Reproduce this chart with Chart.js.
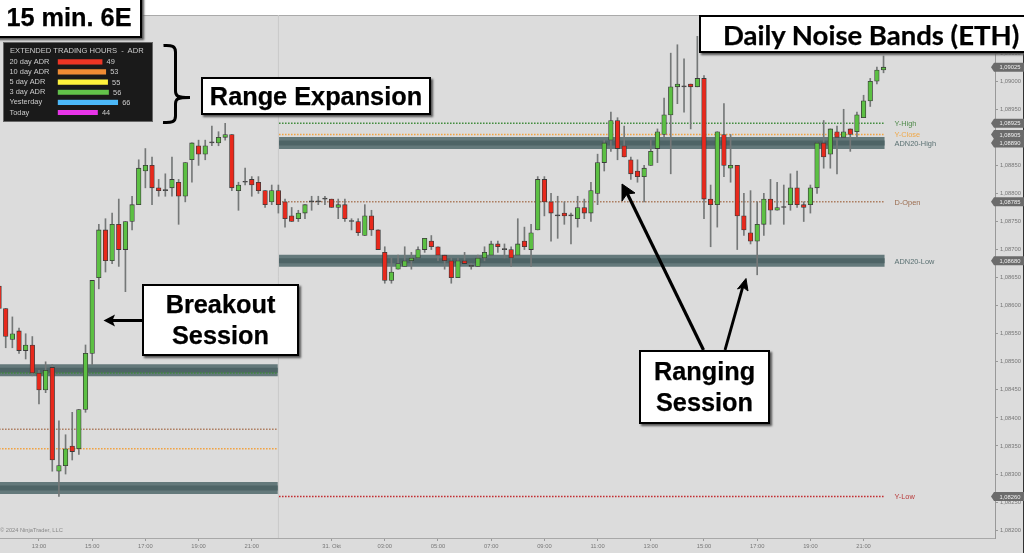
<!DOCTYPE html>
<html>
<head>
<meta charset="utf-8">
<title>15 min. 6E - Daily Noise Bands</title>
<script src="https://cdn.jsdelivr.net/npm/chart.js@4/dist/chart.umd.min.js"></script>
<style>
    html, body { margin: 0; padding: 0; background: #fff; }
    #page { position: relative; width: 1024px; height: 553px; overflow: hidden; }
    #plot-bg { position: absolute; left: 0; top: 15px; width: 1024px; height: 538px; background: #dcdcdc; border-top: 1px solid #aaa; box-sizing: border-box; border-right: 1px solid #333; }
    #main-chart { position: absolute; left: 0; top: 0; filter: blur(0.3px); }
    #arrows { position: absolute; left: 0; top: 0; }
    .note { position: absolute; box-sizing: border-box; background: #fff; border: 2px solid #000; box-shadow: 1.5px 1.5px 2px #555;
            display: flex; align-items: center; justify-content: center; text-align: center;
            font: bold 25.3px/31px "Liberation Sans", Arial, sans-serif; color: #000; white-space: nowrap; -webkit-text-stroke: 0.25px #000; }
    #adr-panel { position: absolute; left: 3px; top: 42px; width: 150px; height: 80px; background: #1a1a1a; border: 1px solid #666; box-sizing: border-box; }
    #adr-title { position: absolute; left: 6px; top: 3px; font: 7.6px "Liberation Sans", Arial, sans-serif; color: #ccc; white-space: pre; }
    #adr-chart { position: absolute; left: -1px; top: -1px; }
    #copyright { position: absolute; left: 0; top: 527px; font: 5.7px "Liberation Sans", Arial, sans-serif; color: #888; }
</style>
</head>
<body>
<div id="page">
    <div id="plot-bg"></div>
    <canvas id="main-chart" width="1024" height="553"></canvas>
    <div id="copyright">© 2024 NinjaTrader, LLC</div>

    <svg id="arrows" width="1024" height="553" fill="none" stroke="#000" stroke-width="3">
        <path d="M163.5 45.5 C172 45 175.5 46 175.5 52 L175.5 91 C175.5 96 177 97.5 190 97.5 C177 97.5 175.5 99 175.5 104 L175.5 116 C175.5 122 172 123 163 122.5"/>
        <line x1="142" y1="320.5" x2="110" y2="320.5"/>
        <polygon points="103.5,320.5 115,314.5 112.5,320.5 115,326.5" fill="#000" stroke="none"/>
        <line x1="703.5" y1="350" x2="627" y2="193" stroke-width="3.2"/>
        <polygon points="622,184 635,193 627,194 622,201" fill="#000" stroke="#000" stroke-width="1"/>
        <line x1="725" y1="350" x2="743" y2="286" stroke-width="2.8"/>
        <polygon points="746,278.5 748,291 743,287 737.5,289" fill="#000" stroke="#000" stroke-width="1"/>
    </svg>

    <div id="adr-panel">
        <canvas id="adr-chart" width="150" height="80"></canvas>
        <div id="adr-title">EXTENDED TRADING HOURS  -  ADR</div>
    </div>

    <div class="note" style="left:-4px;top:-4px;width:146px;height:42px;">15 min. 6E</div>
    <div class="note" style="left:201px;top:77px;width:230px;height:38px;">Range Expansion</div>
    <div class="note" style="left:699px;top:15px;width:327px;height:38px;font-family:Lato,sans-serif;font-size:27.5px;justify-content:flex-start;padding-left:22px;">Daily Noise Bands (ETH)</div>
    <div class="note" style="left:142px;top:284px;width:157px;height:72px;">Breakout<br>Session</div>
    <div class="note" style="left:639px;top:350px;width:131px;height:74px;">Ranging<br>Session</div>
</div>

<script>
// Bars are numbered from the 13:00 bar (0), the first one on screen is -6
const firstBar = -6;

const opens = [
    1.08635, 1.08595, 1.08540, 1.08555, 1.08520, 1.08530,
    1.08480, 1.08450, 1.08490, 1.08305, 1.08315, 1.08350, 1.08345, 1.08415, 1.08515, 1.08650,
    1.08735, 1.08680, 1.08745, 1.08700, 1.08750, 1.08780, 1.08840, 1.08850, 1.08810, 1.08805,
    1.08810, 1.08820, 1.08795, 1.08860, 1.08885, 1.08870, 1.08890, 1.08890, 1.08900, 1.08905,
    1.08805, 1.08820, 1.08825, 1.08820, 1.08805, 1.08785, 1.08805, 1.08785, 1.08760, 1.08755,
    1.08765, 1.08785, 1.08785, 1.08790, 1.08790, 1.08775, 1.08780, 1.08750, 1.08750, 1.08725,
    1.08760, 1.08735, 1.08695, 1.08645, 1.08665, 1.08670, 1.08680, 1.08685, 1.08700, 1.08715,
    1.08705, 1.08690, 1.08680, 1.08650, 1.08680, 1.08670, 1.08670, 1.08685, 1.08690, 1.08710,
    1.08700, 1.08700, 1.08690, 1.08715, 1.08700, 1.08735, 1.08825, 1.08785, 1.08760, 1.08765,
    1.08760, 1.08755, 1.08775, 1.08765, 1.08800, 1.08855, 1.08895, 1.08930, 1.08885, 1.08860,
    1.08840, 1.08830, 1.08850, 1.08880, 1.08905, 1.08940, 1.08990, 1.08990, 1.08995, 1.08990,
    1.09005, 1.08790, 1.08780, 1.08905, 1.08845, 1.08850, 1.08760, 1.08730, 1.08715, 1.08745,
    1.08790, 1.08770, 1.08775, 1.08780, 1.08810, 1.08780, 1.08780, 1.08810, 1.08890, 1.08870,
    1.08910, 1.08900, 1.08915, 1.08910, 1.08935, 1.08965, 1.09000, 1.09020
];
const highs = [
    1.08635, 1.08595, 1.08580, 1.08560, 1.08550, 1.08545,
    1.08485, 1.08500, 1.08495, 1.08395, 1.08370, 1.08410, 1.08415, 1.08530, 1.08645, 1.08745,
    1.08755, 1.08765, 1.08790, 1.08750, 1.08795, 1.08860, 1.08880, 1.08865, 1.08825, 1.08835,
    1.08865, 1.08825, 1.08855, 1.08890, 1.08895, 1.08895, 1.08920, 1.08910, 1.08925, 1.08905,
    1.08820, 1.08845, 1.08830, 1.08830, 1.08805, 1.08815, 1.08815, 1.08790, 1.08775, 1.08770,
    1.08780, 1.08795, 1.08795, 1.08795, 1.08790, 1.08790, 1.08790, 1.08755, 1.08755, 1.08780,
    1.08770, 1.08735, 1.08705, 1.08685, 1.08690, 1.08705, 1.08695, 1.08705, 1.08720, 1.08725,
    1.08705, 1.08690, 1.08685, 1.08685, 1.08695, 1.08675, 1.08690, 1.08705, 1.08715, 1.08715,
    1.08710, 1.08705, 1.08755, 1.08740, 1.08745, 1.08830, 1.08830, 1.08800, 1.08795, 1.08785,
    1.08765, 1.08795, 1.08790, 1.08820, 1.08870, 1.08895, 1.08945, 1.08935, 1.08920, 1.08865,
    1.08860, 1.08850, 1.08895, 1.08915, 1.08970, 1.09050, 1.09065, 1.09040, 1.08995, 1.09080,
    1.09010, 1.08815, 1.08910, 1.08960, 1.08905, 1.08850, 1.08800, 1.08805, 1.08785, 1.08800,
    1.08825, 1.08820, 1.08815, 1.08835, 1.08840, 1.08785, 1.08815, 1.08890, 1.08930, 1.08915,
    1.08920, 1.08950, 1.08915, 1.08945, 1.08975, 1.09005, 1.09025, 1.09045
];
const lows = [
    1.08595, 1.08525, 1.08525, 1.08515, 1.08505, 1.08475,
    1.08425, 1.08445, 1.08305, 1.08260, 1.08300, 1.08325, 1.08335, 1.08410, 1.08495, 1.08630,
    1.08660, 1.08675, 1.08670, 1.08625, 1.08735, 1.08780, 1.08810, 1.08780, 1.08795, 1.08795,
    1.08795, 1.08745, 1.08785, 1.08820, 1.08850, 1.08860, 1.08885, 1.08885, 1.08895, 1.08805,
    1.08770, 1.08815, 1.08795, 1.08800, 1.08775, 1.08780, 1.08765, 1.08740, 1.08750, 1.08750,
    1.08755, 1.08770, 1.08780, 1.08780, 1.08775, 1.08755, 1.08750, 1.08735, 1.08725, 1.08725,
    1.08725, 1.08700, 1.08640, 1.08640, 1.08665, 1.08670, 1.08665, 1.08685, 1.08695, 1.08700,
    1.08680, 1.08665, 1.08640, 1.08650, 1.08675, 1.08665, 1.08670, 1.08680, 1.08690, 1.08695,
    1.08685, 1.08670, 1.08690, 1.08700, 1.08670, 1.08735, 1.08760, 1.08715, 1.08720, 1.08745,
    1.08710, 1.08740, 1.08755, 1.08750, 1.08780, 1.08840, 1.08875, 1.08860, 1.08865, 1.08825,
    1.08820, 1.08785, 1.08850, 1.08855, 1.08900, 1.08835, 1.08960, 1.08945, 1.08915, 1.08990,
    1.08755, 1.08705, 1.08740, 1.08830, 1.08820, 1.08700, 1.08725, 1.08710, 1.08655, 1.08725,
    1.08745, 1.08770, 1.08745, 1.08770, 1.08775, 1.08750, 1.08765, 1.08800, 1.08845, 1.08845,
    1.08835, 1.08900, 1.08875, 1.08900, 1.08935, 1.08955, 1.08995, 1.09015
];
const closes = [
    1.08595, 1.08545, 1.08550, 1.08520, 1.08530, 1.08480,
    1.08450, 1.08485, 1.08325, 1.08315, 1.08345, 1.08340, 1.08415, 1.08515, 1.08645, 1.08735,
    1.08680, 1.08745, 1.08700, 1.08750, 1.08780, 1.08845, 1.08850, 1.08810, 1.08805, 1.08805,
    1.08825, 1.08795, 1.08855, 1.08890, 1.08870, 1.08885, 1.08890, 1.08900, 1.08905, 1.08810,
    1.08815, 1.08820, 1.08815, 1.08805, 1.08780, 1.08805, 1.08780, 1.08755, 1.08750, 1.08765,
    1.08780, 1.08785, 1.08785, 1.08790, 1.08775, 1.08780, 1.08755, 1.08750, 1.08730, 1.08760,
    1.08735, 1.08700, 1.08645, 1.08660, 1.08675, 1.08680, 1.08685, 1.08700, 1.08720, 1.08705,
    1.08690, 1.08680, 1.08650, 1.08680, 1.08675, 1.08670, 1.08685, 1.08695, 1.08710, 1.08705,
    1.08700, 1.08685, 1.08710, 1.08705, 1.08730, 1.08825, 1.08785, 1.08765, 1.08760, 1.08760,
    1.08760, 1.08775, 1.08765, 1.08805, 1.08855, 1.08890, 1.08930, 1.08880, 1.08865, 1.08835,
    1.08830, 1.08845, 1.08875, 1.08910, 1.08940, 1.08990, 1.08995, 1.08990, 1.08990, 1.09005,
    1.08790, 1.08780, 1.08910, 1.08850, 1.08850, 1.08760, 1.08735, 1.08715, 1.08745, 1.08790,
    1.08770, 1.08775, 1.08775, 1.08810, 1.08780, 1.08775, 1.08810, 1.08890, 1.08865, 1.08915,
    1.08900, 1.08910, 1.08905, 1.08940, 1.08965, 1.09000, 1.09020, 1.09025
];

const tickBars = [0, 8, 16, 24, 32, 44, 52, 60, 68, 76, 84, 92, 100, 108, 116, 124];
const tickLabels = ['13:00', '15:00', '17:00', '19:00', '21:00', '31. Okt', '03:00', '05:00', '07:00', '09:00', '11:00', '13:00', '15:00', '17:00', '19:00', '21:00'];
const priceTicks = [1.0820, 1.0825, 1.0830, 1.0835, 1.0840, 1.0845, 1.0850, 1.0855, 1.0860, 1.0865, 1.0870, 1.0875, 1.0880, 1.0885, 1.0890, 1.0895, 1.0900, 1.0905];

// Session limits in bar numbers
const sessionBreak = 36.1;
const sessionEnd = 127.15;

// Levels of the current session
const levelNames = ['Y-High', 'Y-Close', 'D-Open', 'Y-Low'];
const levelPrices = [1.08925, 1.08905, 1.08785, 1.08260];
const bandNames = ['ADN20-High', 'ADN20-Low'];
const bandPrices = [1.08890, 1.08680];

// Levels of the session before
const priorLevelPrices = [1.08480, 1.08345, 1.08380, null];
const priorBandPrices = [1.08485, 1.08275];

const flagPrices = [1.09025, 1.08925, 1.08905, 1.08890, 1.08785, 1.08680, 1.08260];

const adrLabels = ['20 day ADR', '10 day ADR', '5 day ADR', '3 day ADR', 'Yesterday', 'Today'];
const adrValues = [49, 53, 55, 56, 66, 44];

const levelColors = ['#3e8a3a', '#f2a13c', '#ab7a5c', '#c2282c'];
const levelTextColors = ['#4f8a4a', '#f0a848', '#9a6a4c', '#b83a3a'];
const adrColors = ['#ee3524', '#f08c34', '#fff33c', '#62c24a', '#4cb8f8', '#e835e8'];
const uiFont = '"Liberation Sans", Arial, sans-serif';

const barNumbers = opens.map((v, i) => firstBar + i);
const isDoji = (i) => opens[i] === closes[i];
const bodyColor = (i) => isDoji(i) ? '#444' : (closes[i] > opens[i] ? '#5cc043' : '#e8291c');

// Flat line from bar a to bar b, used for bands and dotted levels
function levelLine(price, a, b, style) {
    return Object.assign({
        type: 'line',
        data: [{ x: a, y: price }, { x: b, y: price }],
        pointRadius: 0,
        fill: false
    }, style);
}

const datasets = [];

// Candles: bodies on top of wicks
datasets.push({
    type: 'bar',
    data: barNumbers.map((x, i) => ({ x: x, y: [opens[i], closes[i]] })),
    backgroundColor: barNumbers.map((x, i) => bodyColor(i)),
    borderColor: '#3a3a3a',
    borderWidth: 0.8,
    borderSkipped: false,
    barThickness: 4.6,
    minBarLength: 1,
    grouped: false,
    order: 0
});
datasets.push({
    type: 'bar',
    data: barNumbers.map((x, i) => ({ x: x, y: [lows[i], highs[i]] })),
    backgroundColor: '#757878',
    barThickness: 1,
    grouped: false,
    order: 1
});

// Dotted levels
const dotted = (i) => ({ borderColor: levelColors[i], borderWidth: 1.5, borderDash: [1.5, 1.5], order: 2 });
levelPrices.forEach((p, i) => datasets.push(levelLine(p, sessionBreak, sessionEnd, dotted(i))));
priorLevelPrices.forEach((p, i) => {
    if (p !== null) datasets.push(levelLine(p, firstBar, sessionBreak - 0.2, dotted(i)));
});

// Noise bands: wide pale stripe with a darker core
function addBand(price, a, b) {
    datasets.push(levelLine(price, a, b, { borderColor: '#4e6466', borderWidth: 5, order: 3 }));
    datasets.push(levelLine(price, a, b, { borderColor: '#64797b', borderWidth: 12, order: 4 }));
}
bandPrices.forEach((p) => addBand(p, sessionBreak, sessionEnd));
priorBandPrices.forEach((p) => addBand(p, firstBar, sessionBreak - 0.2));

// Session separator
datasets.push({
    type: 'line',
    data: [{ x: sessionBreak - 0.1, y: 1.08186 }, { x: sessionBreak - 0.1, y: 1.09118 }],
    borderColor: '#c9c9c9',
    borderWidth: 1,
    pointRadius: 0,
    order: 5
});

// Right side texts and price flags
const levelTextPlugin = {
    id: 'levelText',
    afterDraw(chart) {
        const ctx = chart.ctx;
        const xs = chart.scales.x;
        const ys = chart.scales.y;
        const textX = xs.getPixelForValue(sessionEnd) + 10;
        ctx.save();
        ctx.font = '7.4px ' + uiFont;
        ctx.textAlign = 'left';
        ctx.textBaseline = 'middle';
        levelNames.forEach((name, i) => {
            ctx.fillStyle = levelTextColors[i];
            ctx.fillText(name, textX, ys.getPixelForValue(levelPrices[i]) + 0.7);
        });
        ctx.fillStyle = '#5a7072';
        bandNames.forEach((name, i) => {
            ctx.fillText(name, textX, ys.getPixelForValue(bandPrices[i]) + 0.7);
        });

        ctx.font = '5.8px ' + uiFont;
        flagPrices.forEach((p) => {
            const y = ys.getPixelForValue(p);
            ctx.fillStyle = '#6b6b6b';
            ctx.beginPath();
            ctx.moveTo(991, y);
            ctx.lineTo(994, y - 4.5);
            ctx.lineTo(1024, y - 4.5);
            ctx.lineTo(1024, y + 4.5);
            ctx.lineTo(994, y + 4.5);
            ctx.closePath();
            ctx.fill();
            ctx.fillStyle = '#f0f0f0';
            ctx.fillText(p.toFixed(5).replace('.', ','), 999.5, y + 0.5);
        });
        ctx.restore();
    }
};

new Chart(document.getElementById('main-chart'), {
    data: { datasets: datasets },
    plugins: [levelTextPlugin],
    options: {
        responsive: false,
        animation: false,
        layout: { padding: { top: 15, left: 0, right: 0, bottom: 0 } },
        plugins: { legend: { display: false }, tooltip: { enabled: false } },
        scales: {
            x: {
                type: 'linear',
                min: -5.86,
                max: 143.76,
                offset: false,
                afterBuildTicks: (axis) => { axis.ticks = tickBars.map((v) => ({ value: v })); },
                afterFit: (axis) => { axis.height = 15; },
                border: { color: '#a8a8a8', width: 1 },
                grid: { drawOnChartArea: false, color: '#999', tickLength: 3, offset: false },
                ticks: {
                    autoSkip: false,
                    maxRotation: 0,
                    padding: 2,
                    color: '#777',
                    font: { size: 5.8, family: uiFont },
                    callback: (v) => tickLabels[tickBars.indexOf(v)]
                }
            },
            y: {
                type: 'linear',
                position: 'right',
                min: 1.08186,
                max: 1.09118,
                afterBuildTicks: (axis) => { axis.ticks = priceTicks.map((v) => ({ value: v })); },
                afterFit: (axis) => { axis.width = 29; },
                border: { color: '#999', width: 1 },
                grid: { drawOnChartArea: false, color: '#999', tickLength: 3 },
                ticks: {
                    autoSkip: false,
                    padding: 2,
                    color: '#777',
                    font: { size: 5.8, family: uiFont },
                    callback: (v) => v.toFixed(5).replace('.', ',')
                }
            }
        }
    }
});

// Number right of each ADR bar
const adrValuePlugin = {
    id: 'adrValue',
    afterDatasetsDraw(chart) {
        const ctx = chart.ctx;
        ctx.save();
        ctx.font = '7.4px ' + uiFont;
        ctx.fillStyle = '#ccc';
        ctx.textBaseline = 'middle';
        chart.getDatasetMeta(0).data.forEach((bar, i) => {
            ctx.fillText(adrValues[i], bar.x + 4, bar.y + 0.5);
        });
        ctx.restore();
    }
};

new Chart(document.getElementById('adr-chart'), {
    type: 'bar',
    data: {
        labels: adrLabels,
        datasets: [{
            data: adrValues,
            backgroundColor: adrColors,
            borderColor: '#222',
            borderWidth: 0.5,
            barThickness: 5.5
        }]
    },
    plugins: [adrValuePlugin],
    options: {
        indexAxis: 'y',
        responsive: false,
        animation: false,
        layout: { padding: { top: 14.75, left: 6.5, right: 3.5, bottom: 2.25 } },
        plugins: { legend: { display: false }, tooltip: { enabled: false } },
        scales: {
            x: { display: false, min: 0, max: 100 },
            y: {
                afterFit: (axis) => { axis.width = 48; },
                border: { display: false },
                grid: { display: false },
                ticks: {
                    autoSkip: false,
                    crossAlign: 'far',
                    padding: 0,
                    color: '#ccc',
                    font: { size: 7.4, family: uiFont }
                }
            }
        }
    }
});
</script>
</body>
</html>
